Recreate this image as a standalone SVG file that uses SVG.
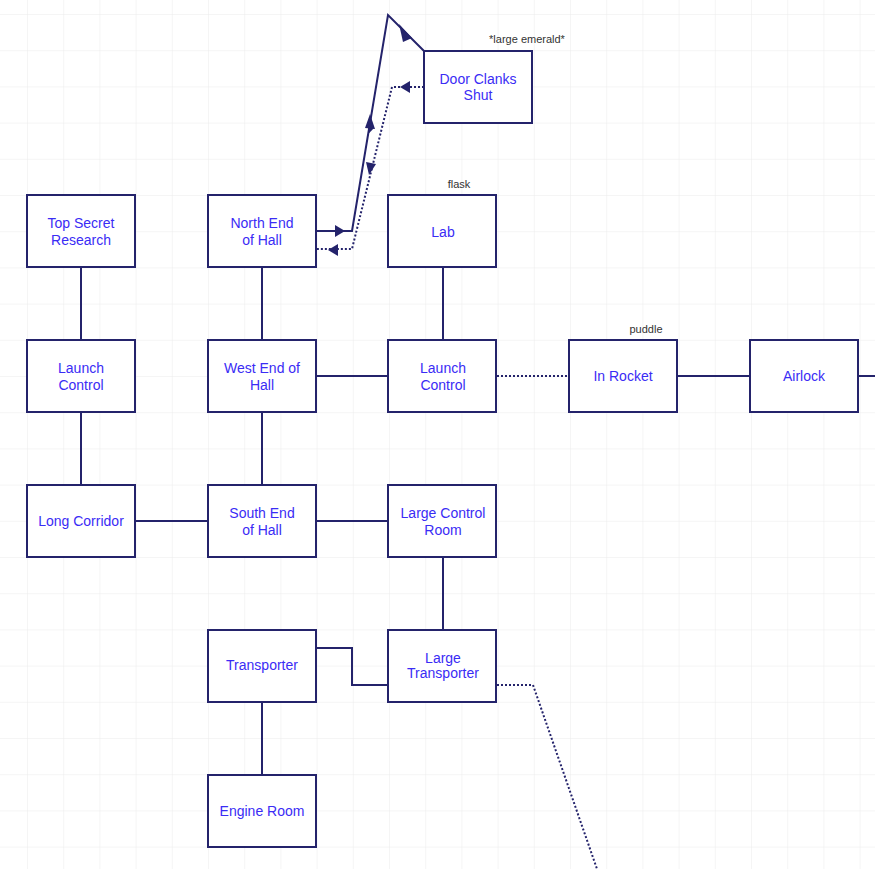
<svg xmlns="http://www.w3.org/2000/svg" width="875" height="869" viewBox="0 0 875 869">
<style>
.n rect{fill:#fff;stroke:#24236b;stroke-width:2}
.n text{font-family:"Liberation Sans",Arial,sans-serif;font-size:14px;fill:#3a2cf5;text-anchor:middle}
.lbl{font-family:"Liberation Sans",Arial,sans-serif;font-size:11px;fill:#333;text-anchor:middle}
.c path{fill:none;stroke:#24236b;stroke-width:2}
.c .d{stroke-dasharray:2 2}
</style>
<defs>
<pattern id="g" x="-9.2" y="-22.2" width="36.2" height="36.2" patternUnits="userSpaceOnUse">
<path d="M0 0H36.2M0 0V36.2" fill="none" stroke="#ebebeb" stroke-width="1"/>
</pattern>
<marker id="a" viewBox="0 0 10 10" refX="5" refY="5" markerWidth="7" markerHeight="7" orient="auto" markerUnits="userSpaceOnUse"><path d="M0 0L10 5L0 10z" fill="#24236b"/></marker>
</defs>
<rect width="875" height="869" fill="#fff"/>
<rect width="875" height="869" fill="url(#g)"/>
<g class="c">
<path d="M81 267V340M81 412V485M135 521H208M262 267V340M262 412V485M316 376H388M443 267V340M316 521H388M443 557V630M262 702V775M316 648H352V685H388M678 376H750M858 376H875"/>
<path class="d" d="M497 376H569M497 685H533L597 869"/>
<path d="M316 231H352L388 15L424 51"/>
<path class="d" d="M424 87H392L352 249H316"/>
<path d="M326 231L340 231" marker-end="url(#a)"/>
<path d="M372 123L370 130" marker-end="url(#a)" stroke="none"/>
</g>
<g fill="#24236b">
<polygon points="335,225 345,231 335,237"/>
<polygon points="370,114 365,128 375,129"/>
<polygon points="399,24 412,38 403,42" />
<polygon points="410,81 400,87 410,93"/>
<polygon points="366,162 376,164 369,175"/>
<polygon points="338,244 328,250 338,256"/>
</g>
<g class="n" id="top-secret"><rect x="27" y="195" width="108" height="72"/><text x="81" y="228">Top Secret</text><text x="81" y="245">Research</text></g>
<g class="n" id="north-end"><rect x="208" y="195" width="108" height="72"/><text x="262" y="228">North End</text><text x="262" y="245">of Hall</text></g>
<g class="n" id="lab"><rect x="388" y="195" width="108" height="72"/><text x="443" y="237">Lab</text></g>
<g class="n" id="door"><rect x="424" y="51" width="108" height="72"/><text x="478" y="84">Door Clanks</text><text x="478" y="100">Shut</text></g>
<g class="n" id="launch1"><rect x="27" y="340" width="108" height="72"/><text x="81" y="373">Launch</text><text x="81" y="390">Control</text></g>
<g class="n" id="west-end"><rect x="208" y="340" width="108" height="72"/><text x="262" y="373">West End of</text><text x="262" y="390">Hall</text></g>
<g class="n" id="launch2"><rect x="388" y="340" width="108" height="72"/><text x="443" y="373">Launch</text><text x="443" y="390">Control</text></g>
<g class="n" id="in-rocket"><rect x="569" y="340" width="108" height="72"/><text x="623" y="381">In Rocket</text></g>
<g class="n" id="airlock"><rect x="750" y="340" width="108" height="72"/><text x="804" y="381">Airlock</text></g>
<g class="n" id="long-corridor"><rect x="27" y="485" width="108" height="72"/><text x="81" y="526">Long Corridor</text></g>
<g class="n" id="south-end"><rect x="208" y="485" width="108" height="72"/><text x="262" y="518">South End</text><text x="262" y="535">of Hall</text></g>
<g class="n" id="large-control"><rect x="388" y="485" width="108" height="72"/><text x="443" y="518">Large Control</text><text x="443" y="535">Room</text></g>
<g class="n" id="transporter"><rect x="208" y="630" width="108" height="72"/><text x="262" y="670">Transporter</text></g>
<g class="n" id="large-transporter"><rect x="388" y="630" width="108" height="72"/><text x="443" y="663">Large</text><text x="443" y="678">Transporter</text></g>
<g class="n" id="engine-room"><rect x="208" y="775" width="108" height="72"/><text x="262" y="816">Engine Room</text></g>
<text class="lbl" x="527" y="43">*large emerald*</text>
<text class="lbl" x="459" y="188">flask</text>
<text class="lbl" x="646" y="333">puddle</text>
</svg>
